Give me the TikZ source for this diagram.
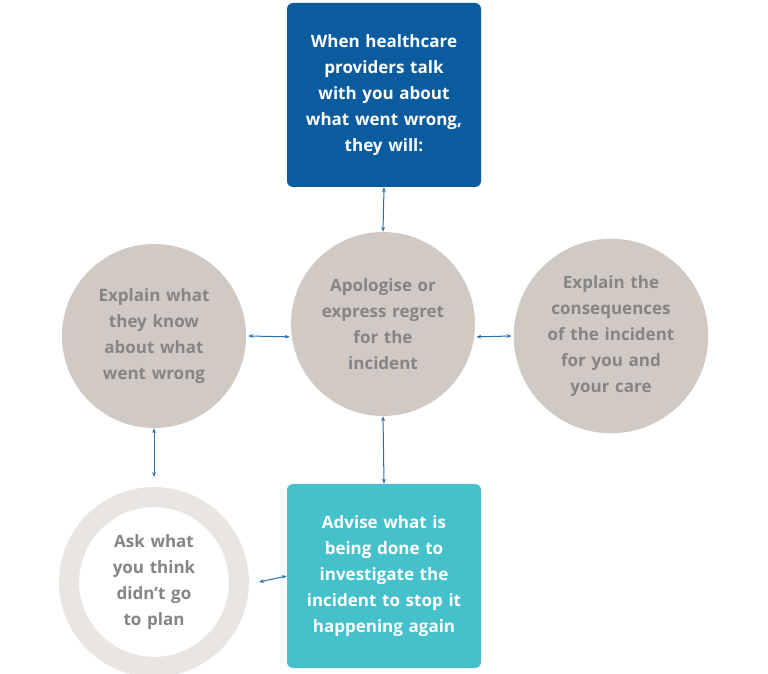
\documentclass[tikz,border=0pt]{standalone}
\usepackage{fontspec}
\setmainfont{Open Sans}
\usetikzlibrary{positioning,arrows.meta}
\definecolor{darkblue}{HTML}{0B5C9E}
\definecolor{teal}{HTML}{45C1CB}
\definecolor{stone}{HTML}{D1CAC4}
\definecolor{ringgrey}{HTML}{E8E5E2}
\definecolor{textgrey}{HTML}{858585}
\definecolor{arrowblue}{HTML}{2B6FA8}
\begin{document}
\begin{tikzpicture}[x=1pt,y=1pt,
    every node/.style = {align=center, font=\fontsize{17}{26}\selectfont\bfseries},
    box/.style = {rectangle, rounded corners=6pt, minimum width=194pt, minimum height=184pt, text width=180pt, text=white},
    disc/.style = {circle, fill=stone, minimum size=184pt, text width=140pt, text=textgrey},
    link/.style = {arrowblue, line width=1pt, {Stealth[length=5pt]}-{Stealth[length=5pt]}}]
  \useasboundingbox (0,0) rectangle (768,673);
  \node[box, fill=darkblue] (talk) at (384,578) {When healthcare\\providers talk\\with you about\\what went wrong,\\they will:};
  \node[disc] (apologise) at (383,349) {Apologise or\\express regret\\for the\\incident};
  \node[disc] (explain) at (154,337) {Explain what\\they know\\about what\\went wrong};
  \node[disc] (consequences) at (611,337) {Explain the\\consequences\\of the incident\\for you and\\your care};
  \node[circle, draw=ringgrey, line width=20pt, fill=white, minimum size=164pt, text width=130pt, text=textgrey] (ask) at (154,91) {Ask what\\you think\\didn’t go\\to plan};
  \node[box, fill=teal] (advise) at (384,97) {Advise what is\\being done to\\investigate the\\incident to stop it\\happening again};
  \draw[link] ([xshift=2pt]explain.east) -- ([xshift=-2pt]apologise.188);
  \draw[link] ([xshift=2pt]apologise.352) -- ([xshift=-2pt]consequences.west);
  \draw[link] (talk.south) -- (apologise.north);
  \draw[link] (explain.south) -- ([yshift=10pt]ask.north);
  \draw[link] (apologise.south) -- (advise.north);
  \draw[link] ([xshift=10pt]ask.east) -- (advise.west);
\end{tikzpicture}
\end{document}
